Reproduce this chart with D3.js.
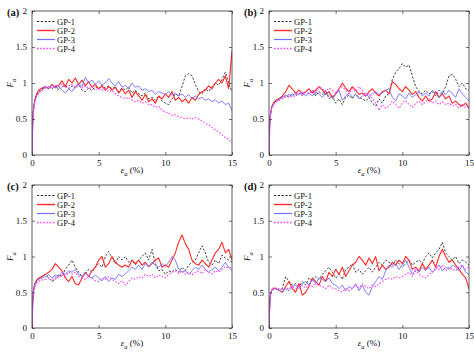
<!DOCTYPE html>
<html><head><meta charset="utf-8">
<script src="https://cdn.jsdelivr.net/npm/d3@7"></script>
<style>body{margin:0;background:#fff} text{font-family:"Liberation Serif","Times New Roman",serif;fill:#111}</style>
</head><body><svg id="c" width="474" height="353"></svg>
<script>
const strain = [0, 0.05, 0.1, 0.2, 0.35, 0.5, 0.75,
 1, 1.25, 1.5, 1.75, 2, 2.25, 2.5, 2.75, 3, 3.25, 3.5, 3.75, 4, 4.25, 4.5, 4.75,
 5, 5.25, 5.5, 5.75, 6, 6.25, 6.5, 6.75, 7, 7.25, 7.5, 7.75, 8, 8.25, 8.5, 8.75,
 9, 9.25, 9.5, 9.75, 10, 10.25, 10.5, 10.75, 11, 11.25, 11.5, 11.75, 12, 12.25, 12.5, 12.75,
 13, 13.25, 13.5, 13.75, 14, 14.25, 14.5, 14.75, 15];
const seriesNames = ["GP-1", "GP-2", "GP-3", "GP-4"];
const panelLabels = ["(a)", "(b)", "(c)", "(d)"];
const xTicks = [0, 5, 10, 15];
const yTicks = [0, 0.5, 1, 1.5, 2];
const xTickLabels = ["0", "5", "10", "15"];
const yTickLabels = ["0", "0.5", "1", "1.5", "2"];

// Panel (a)
const a_GP1 = [0,0.45,0.62,0.75,0.84,0.88,0.92,
 0.93,0.95,0.92,0.96, 0.90,0.95,0.97,0.92, 0.96,0.93,0.98,0.90, 0.88,0.93,0.90,0.95,
 0.92,0.97,0.93,0.96, 0.92,0.95,0.88,0.93, 0.90,0.95,0.86,0.90, 0.85,0.82,0.86,0.78,
 0.80,0.76,0.82,0.75, 0.72,0.70,0.78,0.85, 0.82,0.95,1.10,1.13, 1.10,0.98,0.88,0.85,
 0.92,0.88,0.95,1.00, 0.97,1.05,1.15,1.00, 0.88];
const a_GP2 = [0,0.45,0.62,0.76,0.85,0.90,0.93,
 0.95,0.92,0.98,0.94, 0.97,1.03,0.95,1.05, 1.00,1.07,0.98,1.04, 0.96,1.02,0.94,0.98,
 0.92,0.96,0.90,0.95, 0.90,0.94,0.86,0.92, 0.85,0.90,0.80,0.88, 0.82,0.76,0.84,0.74,
 0.78,0.72,0.82,0.78, 0.85,0.80,0.88,0.76, 0.80,0.74,0.78,0.72, 0.80,0.76,0.84,0.88,
 0.90,0.96,0.92,1.00, 1.05,1.00,1.10,0.92, 1.45];
const a_GP3 = [0,0.42,0.60,0.74,0.82,0.86,0.90,
 0.95,0.92,0.97,0.93, 0.95,0.90,0.86,0.92, 0.88,0.95,1.00,0.95, 1.08,1.00,1.04,0.98,
 1.03,0.97,1.00,1.06, 1.00,0.96,1.02,0.94, 0.97,0.92,1.00,0.94, 0.96,0.90,0.92,0.88,
 0.90,0.84,0.88,0.86, 0.84,0.88,0.83,0.86, 0.82,0.85,0.80,0.84, 0.78,0.82,0.78,0.80,
 0.76,0.78,0.74,0.77, 0.72,0.75,0.70,0.72, 0.62];
const a_GP4 = [0,0.40,0.58,0.72,0.82,0.86,0.90,
 0.93,0.95,0.93,0.97, 0.95,0.98,0.93,0.96, 0.98,0.94,0.97,0.93, 0.96,0.92,0.95,0.90,
 0.93,0.90,0.92,0.88, 0.90,0.85,0.82,0.80, 0.78,0.80,0.76,0.74, 0.76,0.72,0.74,0.70,
 0.70,0.66,0.68,0.62, 0.60,0.58,0.55,0.56, 0.53,0.52,0.50,0.52, 0.50,0.52,0.50,0.47,
 0.44,0.42,0.38,0.35, 0.32,0.28,0.24,0.22, 0.17];

// Panel (b)
const b_GP1 = [0,0.40,0.55,0.66,0.72,0.75,0.78,
 0.80,0.83,0.80,0.85, 0.82,0.86,0.83,0.88, 0.85,0.90,0.82,0.88, 0.84,0.90,0.78,0.82,
 0.72,0.78,0.70,0.80, 0.83,0.78,0.85,0.80, 0.78,0.75,0.80,0.72, 0.68,0.78,0.72,0.82,
 0.85,1.05,1.15,1.20, 1.27,1.22,1.25,1.10, 0.95,0.88,0.85,0.90, 0.85,0.88,0.82,0.90,
 0.85,0.95,1.10,1.12, 1.05,0.95,1.00,0.92, 0.90];
const b_GP2 = [0,0.40,0.56,0.67,0.73,0.76,0.78,
 0.82,0.88,0.97,0.92, 0.86,0.90,0.85,0.88, 0.92,0.86,0.90,0.95, 0.90,0.84,0.88,0.80,
 0.85,0.92,1.00,0.93, 0.88,0.95,0.90,0.84, 0.86,0.82,0.88,0.92, 0.86,0.82,0.88,0.90,
 0.85,1.02,0.98,0.92, 0.88,0.95,0.90,0.84, 0.88,0.80,0.75,0.82, 0.75,0.78,0.88,0.80,
 0.85,0.78,0.82,0.72, 0.75,0.70,0.68,0.72, 0.65];
const b_GP3 = [0,0.40,0.55,0.65,0.71,0.74,0.77,
 0.80,0.82,0.84,0.83, 0.86,0.84,0.88,0.82, 0.86,0.82,0.88,0.85, 0.80,0.86,0.83,0.78,
 0.84,0.90,0.76,0.82, 0.86,0.80,0.84,0.78, 0.82,0.86,0.80,0.85, 0.88,0.84,0.86,0.90,
 0.92,0.80,0.75,0.85, 0.82,0.78,0.86,0.80, 0.84,0.88,0.82,0.86, 0.82,0.90,0.85,0.80,
 0.88,0.84,0.90,0.85, 0.80,0.92,0.85,0.80, 0.75];
const b_GP4 = [0,0.38,0.53,0.64,0.70,0.73,0.76,
 0.78,0.80,0.82,0.80, 0.84,0.86,0.82,0.88, 0.85,0.90,0.86,0.95, 0.92,0.88,0.93,0.90,
 0.86,0.92,0.95,0.90, 0.85,0.92,0.88,0.95, 0.90,0.82,0.86,0.78, 0.72,0.62,0.70,0.65,
 0.68,0.75,0.70,0.65, 0.72,0.76,0.70,0.66, 0.72,0.75,0.70,0.74, 0.78,0.72,0.75,0.70,
 0.74,0.70,0.72,0.68, 0.70,0.65,0.70,0.66, 0.68];

// Panel (c)
const c_GP1 = [0,0.35,0.50,0.60,0.66,0.69,0.72,
 0.75,0.70,0.65,0.68, 0.75,0.72,0.82,0.88, 0.95,0.85,0.78,0.72, 0.75,0.82,0.78,0.85,
 0.90,0.85,1.00,1.07, 0.98,0.90,1.00,0.95, 1.00,0.92,0.95,0.88, 0.95,1.00,1.05,0.95,
 1.10,0.90,0.80,0.82, 0.75,0.80,0.78,0.82, 0.78,0.85,0.80,0.88, 0.92,0.95,1.05,1.15,
 1.05,0.92,0.88,0.95, 0.90,1.02,0.98,0.95, 0.92];
const c_GP2 = [0,0.35,0.52,0.62,0.67,0.70,0.72,
 0.75,0.78,0.82,0.90, 0.85,0.80,0.70,0.65, 0.72,0.62,0.60,0.70, 0.78,0.72,0.80,0.85,
 0.95,1.00,0.85,0.90, 1.00,0.92,0.88,0.85, 0.88,0.85,0.95,0.90, 0.95,0.88,0.92,0.86,
 0.90,0.95,0.98,0.85, 0.88,0.85,0.95,1.05, 1.20,1.30,1.18,1.10, 0.95,0.90,0.88,0.95,
 0.90,0.85,0.95,1.05, 1.10,1.20,1.05,1.10, 0.95];
const c_GP3 = [0,0.34,0.50,0.60,0.65,0.68,0.70,
 0.72,0.75,0.70,0.74, 0.72,0.78,0.75,0.80, 0.78,0.82,0.75,0.72, 0.78,0.72,0.70,0.74,
 0.70,0.66,0.72,0.65, 0.70,0.68,0.75,0.72, 0.76,0.80,0.85,0.82, 0.88,0.82,0.90,0.85,
 0.92,0.88,0.85,0.90, 0.86,0.92,1.00,0.95, 0.82,0.78,0.80,0.75, 0.80,0.85,0.82,0.88,
 0.82,0.78,0.82,0.85, 0.80,0.85,0.92,0.85, 0.80];
const c_GP4 = [0,0.33,0.48,0.57,0.62,0.65,0.67,
 0.68,0.70,0.66,0.72, 0.70,0.75,0.72,0.78, 0.75,0.78,0.72,0.70, 0.68,0.72,0.70,0.66,
 0.65,0.70,0.68,0.72, 0.68,0.65,0.62,0.66, 0.60,0.65,0.70,0.68, 0.72,0.70,0.75,0.72,
 0.75,0.70,0.74,0.72, 0.70,0.75,0.78,0.80, 0.76,0.80,0.75,0.78, 0.74,0.78,0.80,0.76,
 0.82,0.78,0.75,0.80, 0.78,0.82,0.86,0.84, 0.85];

// Panel (d)
const d_GP1 = [0,0.30,0.45,0.52,0.55,0.55,0.52,
 0.55,0.72,0.65,0.60, 0.62,0.58,0.65,0.60, 0.70,0.65,0.72,0.68, 0.75,0.80,0.85,0.78,
 0.70,0.75,0.68,0.82, 0.85,0.90,0.78,0.82, 0.75,0.80,0.85,0.78, 0.85,0.92,0.88,0.95,
 0.92,0.88,0.95,0.90, 0.85,0.90,0.95,0.88, 0.92,0.95,0.90,1.00, 1.05,0.98,1.05,1.10,
 1.20,1.05,1.00,0.95, 1.00,0.90,0.95,0.92, 0.88];
const d_GP2 = [0,0.30,0.46,0.53,0.56,0.55,0.53,
 0.50,0.58,0.65,0.55, 0.50,0.62,0.46,0.50, 0.58,0.70,0.65,0.60, 0.72,0.65,0.78,0.72,
 0.82,0.75,0.85,0.72, 0.80,0.88,0.92,1.00, 0.95,0.88,0.98,0.90, 1.00,0.80,0.88,0.82,
 0.85,0.92,0.88,0.95, 0.90,1.00,0.95,0.82, 0.85,0.80,0.90,0.82, 0.88,0.95,0.85,1.00,
 1.10,1.00,0.92,0.95, 0.88,0.82,0.75,0.70, 0.55];
const d_GP3 = [0,0.30,0.45,0.52,0.55,0.55,0.53,
 0.50,0.55,0.52,0.58, 0.60,0.55,0.62,0.65, 0.60,0.68,0.62,0.70, 0.68,0.65,0.70,0.62,
 0.60,0.55,0.60,0.52, 0.58,0.55,0.62,0.52, 0.60,0.50,0.46,0.58, 0.65,0.72,0.68,0.80,
 0.88,0.85,0.90,0.82, 0.88,0.95,0.85,0.75, 0.82,0.78,0.85,0.80, 0.85,0.78,0.82,0.88,
 0.80,0.85,0.82,0.88, 0.85,0.80,0.88,0.78, 0.75];
const d_GP4 = [0,0.30,0.45,0.52,0.55,0.56,0.55,
 0.54,0.56,0.55,0.58, 0.55,0.58,0.60,0.56, 0.60,0.58,0.62,0.60, 0.58,0.55,0.60,0.56,
 0.55,0.52,0.50,0.55, 0.52,0.55,0.60,0.56, 0.62,0.58,0.55,0.60, 0.58,0.62,0.65,0.68,
 0.70,0.68,0.72,0.70, 0.72,0.75,0.78,0.72, 0.80,0.75,0.72,0.70, 0.75,0.78,0.85,0.82,
 0.88,0.80,0.85,0.82, 0.80,0.85,0.88,0.82, 0.85];

const panelData = [
  [a_GP1, a_GP2, a_GP3, a_GP4],
  [b_GP1, b_GP2, b_GP3, b_GP4],
  [c_GP1, c_GP2, c_GP3, c_GP4],
  [d_GP1, d_GP2, d_GP3, d_GP4]
];

const boxes = [
  {x: 32, y: 11, w: 200, h: 144},
  {x: 269, y: 11, w: 200, h: 144},
  {x: 32, y: 185, w: 200, h: 143},
  {x: 269, y: 185, w: 200, h: 143}
];
const styles = [
  {color: "#2a2a2a", dash: "2.2,1.6", width: 0.9},
  {color: "#ff2a2a", dash: null, width: 1.1},
  {color: "#7370ff", dash: null, width: 0.9},
  {color: "#ff40ff", dash: "1.6,1.6", width: 1.1}
];

const svg = d3.select("#c");

panelData.forEach((series, pi) => {
  const b = boxes[pi];
  const g = svg.append("g").attr("transform", `translate(${b.x},${b.y})`);
  const x = d3.scaleLinear().domain([0, 15]).range([0, b.w]);
  const y = d3.scaleLinear().domain([0, 2]).range([b.h, 0]);

  const line = d3.line().x((d, i) => x(strain[i])).y(d => y(d));
  const clipId = "clip" + pi;
  g.append("clipPath").attr("id", clipId).append("rect").attr("width", b.w).attr("height", b.h);
  const pg = g.append("g").attr("clip-path", `url(#${clipId})`);
  series.forEach((vals, si) => {
    const s = styles[si];
    pg.append("path").datum(vals).attr("d", line)
      .attr("fill", "none").attr("stroke", s.color)
      .attr("stroke-width", s.width)
      .attr("stroke-dasharray", s.dash)
      .attr("stroke-linejoin", "round");
  });

  // axes
  const ax = (axis, tr) => {
    const a = g.append("g").attr("transform", tr).call(axis);
    a.select(".domain").remove();
    a.selectAll("line").attr("stroke", "#333").attr("stroke-width", 0.7);
    a.selectAll("text").attr("font-size", 9).attr("font-family", "Liberation Serif").attr("fill", "#111");
    return a;
  };
  ax(d3.axisBottom(x).tickValues(xTicks).tickFormat((d, i) => xTickLabels[i])
      .tickSizeInner(-3).tickSizeOuter(0).tickPadding(5), `translate(0,${b.h})`);
  ax(d3.axisTop(x).tickValues(xTicks).tickSizeInner(-3).tickSizeOuter(0).tickFormat(""), "translate(0,0)");
  ax(d3.axisLeft(y).tickValues(yTicks).tickFormat((d, i) => yTickLabels[i])
      .tickSizeInner(-3).tickSizeOuter(0).tickPadding(5), "translate(0,0)");
  ax(d3.axisRight(y).tickValues(yTicks).tickSizeInner(-3).tickSizeOuter(0).tickFormat(""), `translate(${b.w},0)`);
  g.append("rect").attr("width", b.w).attr("height", b.h)
    .attr("fill", "none").attr("stroke", "#333").attr("stroke-width", 0.8);

  // panel label
  svg.append("text").attr("x", b.x - 25).attr("y", b.y + 5)
    .attr("font-size", 10.5).attr("font-weight", "bold").text(panelLabels[pi]);

  // y label
  const yl = svg.append("text")
    .attr("transform", `translate(${b.x - 19},${b.y + y(1)}) rotate(-90)`)
    .attr("text-anchor", "middle").attr("font-size", 9);
  yl.append("tspan").attr("font-style", "italic").text("F");
  yl.append("tspan").attr("font-style", "italic").attr("font-size", 6.5).attr("dy", 2.5).text("a");

  // x label
  const xl = svg.append("text").attr("x", b.x + b.w / 2).attr("y", b.y + b.h + 18)
    .attr("text-anchor", "middle").attr("font-size", 9);
  xl.append("tspan").attr("font-style", "italic").text("ε");
  xl.append("tspan").attr("font-style", "italic").attr("font-size", 6.5).attr("dy", 2.5).text("a");
  xl.append("tspan").attr("dy", -2.5).text(" (%)");

  // legend
  const lg = g.append("g").attr("transform", "translate(5,10.5)");
  seriesNames.forEach((n, si) => {
    const s = styles[si];
    const row = lg.append("g").attr("transform", `translate(0,${si * 9})`);
    row.append("line").attr("x1", 0).attr("x2", 18).attr("y1", 0).attr("y2", 0)
      .attr("stroke", s.color).attr("stroke-width", s.width + 0.3)
      .attr("stroke-dasharray", s.dash);
    row.append("text").attr("x", 20).attr("y", 3).attr("font-size", 8.5).text(n);
  });
});
</script>
</body></html>
